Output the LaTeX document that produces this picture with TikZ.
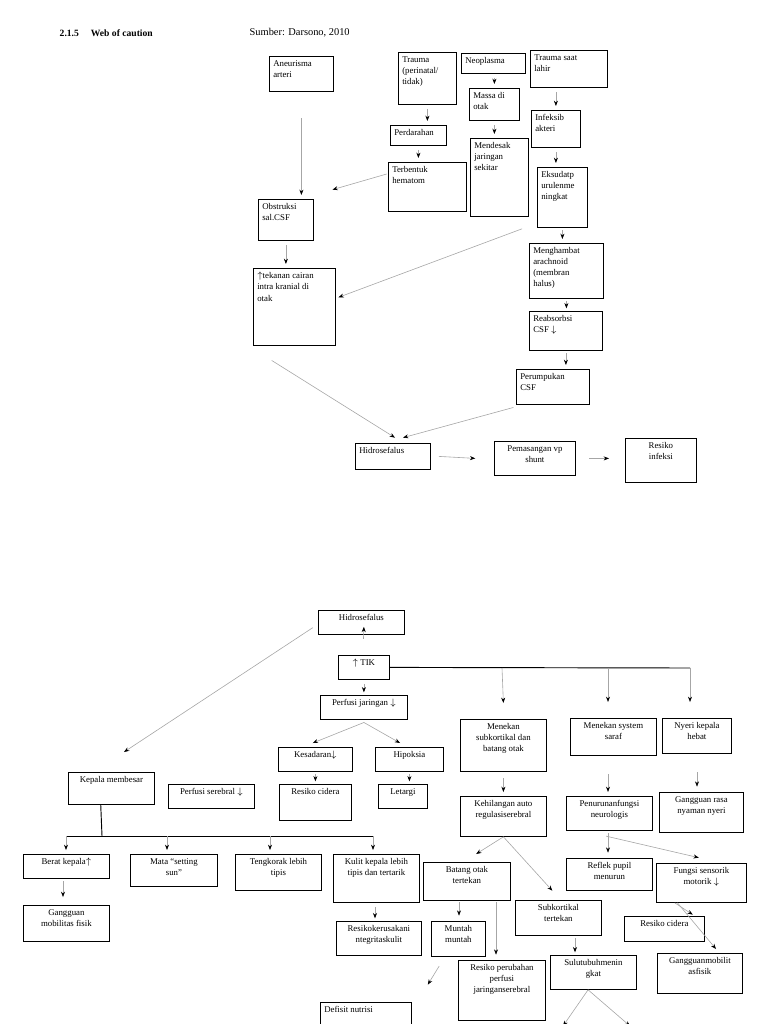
\documentclass[tikz,border=0pt]{standalone}
\usepackage{fontspec}
\setmainfont{Liberation Serif}
\usetikzlibrary{arrows.meta,calc}
\tikzset{
 bx/.style={draw=black,line width=0.6pt,rectangle,inner sep=0pt,anchor=north west},
 tl/.style={anchor=north west,inner sep=0pt,align=left,font=\fontsize{6.6}{8.4}\selectfont},
 tc/.style={anchor=north,inner sep=0pt,align=center,font=\fontsize{6.6}{8.4}\selectfont},
 ar/.style={draw=gray!70,line width=0.45pt,-{Stealth[length=4pt,width=3pt,black]}},
 ln/.style={draw=black,line width=0.7pt}
}
% #1 name, #2 x1, #3 y1, #4 x2, #5 y2, #6 l/c, #7 text
\newcommand\mybox[7]{%
 \node[bx,minimum width={(#4-#2)*0.75pt},minimum height={(#5-#3)*0.75pt}] (#1) at (#2,#3) {};
 \if#6l\node[tl] at ($(#1.north west)+(4,4)$) {#7};\else\node[tc] at ($(#1.north)+(0,4)$) {#7};\fi}
\begin{document}
\begin{tikzpicture}[x=0.75pt,y=-0.75pt]
\useasboundingbox (0,0) rectangle (768,1024);
\node[anchor=west,font=\fontsize{7.2}{9}\selectfont\bfseries] (title) at (55,33) {2.1.5\hspace{9pt}Web of caution};
\node[anchor=west,font=\fontsize{7.8}{9}\selectfont] (src) at (245,33) {Sumber: Darsono, 2010};
% top section
\mybox{aneu}{269}{56}{333}{91}{l}{Aneurisma\\arteri}
\mybox{trauma}{398}{52}{456}{104}{l}{Trauma\\(perinatal/\\tidak)}
\mybox{neo}{461}{53}{525}{73}{l}{Neoplasma}
\mybox{tsl}{530}{50}{607}{87}{l}{Trauma saat\\lahir}
\mybox{massa}{469}{88}{519}{120}{l}{Massa di\\otak}
\mybox{perd}{390}{125}{446}{145}{l}{Perdarahan}
\mybox{infek}{531}{110}{580}{147}{l}{Infeksib\\akteri}
\mybox{mend}{470}{138}{528}{216}{l}{Mendesak\\jaringan\\sekitar}
\mybox{hema}{388}{162}{466}{211}{l}{Terbentuk\\hematom}
\mybox{eksu}{537}{167}{587}{227}{l}{Eksudatp\\urulenme\\ningkat}
\mybox{obs}{258}{199}{313}{240}{l}{Obstruksi\\sal.CSF}
\mybox{meng}{529}{243}{603}{298}{l}{Menghambat\\arachnoid\\(membran\\halus)}
\mybox{tek}{253}{268}{335}{345}{l}{$\uparrow$tekanan cairan\\intra kranial di\\otak}
\mybox{reab}{529}{311}{602}{350}{l}{Reabsorbsi\\CSF $\downarrow$}
\mybox{perum}{516}{369}{589}{404}{l}{Perumpukan\\CSF}
\mybox{hidro}{355}{443}{430}{469}{l}{Hidrosefalus}
\mybox{pvp}{494}{441}{575}{475}{c}{Pemasangan vp\\shunt}
\mybox{rinf}{625}{438}{696}{482}{c}{Resiko\\infeksi}
\draw[ar] ([yshift=-3pt]trauma.south) -- ([yshift=3pt]trauma.south |- perd.north);
\draw[ar] ([yshift=-3pt]perd.south) -- ([yshift=3pt]perd.south |- hema.north);
\draw[ar] ([yshift=-3pt]neo.south -| massa.north) -- ([yshift=3pt]massa.north);
\draw[ar] ([yshift=-3pt]massa.south) -- ([yshift=3pt]massa.south |- mend.north);
\draw[ar] ([yshift=-3pt]tsl.south -| infek.north) -- ([yshift=3pt]infek.north);
\draw[ar] ([yshift=-3pt]infek.south) -- ([yshift=3pt]infek.south |- eksu.north);
\draw[ar] ([yshift=-2pt]eksu.south) -- ([yshift=3pt]eksu.south |- meng.north);
\draw[ar] ([yshift=-2pt]meng.south) -- ([yshift=2pt]meng.south |- reab.north);
\draw[ar] ([yshift=-2pt]reab.south) -- ([yshift=3pt]reab.south |- perum.north);
\draw[ar] ([yshift=-20pt]aneu.south) -- ([yshift=3pt]aneu.south |- obs.north);
\draw[ar] ([xshift=-1pt,yshift=-9pt]hema.north west) -- ([xshift=14pt,yshift=7pt]obs.north east);
\draw[ar] ([yshift=-3pt]obs.south) -- ([yshift=3pt]obs.south |- tek.north);
\draw[ar] ([xshift=17pt,yshift=-9pt]mend.south) -- ([xshift=2pt,yshift=-22pt]tek.north east);
\draw[ar] ([xshift=-17pt,yshift=-11pt]tek.south) -- ([xshift=30pt,yshift=4pt]hidro.north west);
\draw[ar] ([xshift=-2pt,yshift=-2pt]perum.south west) -- ([xshift=36pt,yshift=4pt]hidro.north west);
\draw[ar] ([xshift=6pt]hidro.east) -- ([xshift=-14pt]pvp.west);
\draw[ar] ([xshift=10pt]pvp.east) -- ([xshift=-12pt]rinf.west |- pvp.east);
% bottom section
\mybox{hid2}{318}{610}{404}{634}{c}{Hidrosefalus}
\mybox{tik}{338}{655}{389}{679}{c}{$\uparrow$ TIK}
\mybox{perf}{320}{695}{407}{719}{c}{Perfusi jaringan $\downarrow$}
\mybox{kes}{278}{747}{352}{771}{c}{Kesadaran$\downarrow$}
\mybox{hip}{375}{747}{443}{771}{c}{Hipoksia}
\mybox{rc1}{279}{784}{351}{820}{c}{Resiko cidera}
\mybox{let}{378}{784}{427}{808}{c}{Letargi}
\mybox{kep}{68}{772}{154}{804}{c}{Kepala membesar}
\mybox{pser}{168}{784}{254}{808}{c}{Perfusi serebral $\downarrow$}
\mybox{berat}{23}{854}{109}{878}{c}{Berat kepala$\uparrow$}
\mybox{mata}{130}{854}{217}{886}{c}{Mata ``setting\\sun''}
\mybox{teng}{235}{854}{321}{890}{c}{Tengkorak lebih\\tipis}
\mybox{kulit}{333}{854}{419}{902}{c}{Kulit kepala lebih\\tipis dan tertarik}
\mybox{gmf}{23}{905}{109}{941}{c}{Gangguan\\mobilitas fisik}
\mybox{rkk}{336}{921}{421}{955}{c}{Resikokerusakani\\ntegritaskulit}
\mybox{def}{320}{1002}{411}{1034}{l}{Defisit nutrisi}
\mybox{msub}{460}{719}{546}{771}{c}{Menekan\\subkortikal dan\\batang otak}
\mybox{msys}{570}{718}{656}{755}{c}{Menekan system\\saraf}
\mybox{nyeri}{662}{718}{731}{753}{c}{Nyeri kepala\\hebat}
\mybox{kehil}{460}{796}{546}{836}{c}{Kehilangan auto\\regulasiserebral}
\mybox{penur}{566}{796}{652}{830}{c}{Penurunanfungsi\\neurologis}
\mybox{grn}{659}{792}{743}{832}{c}{Gangguan rasa\\nyaman nyeri}
\mybox{batang}{423}{862}{510}{900}{c}{Batang otak\\tertekan}
\mybox{subk}{515}{900}{601}{935}{c}{Subkortikal\\tertekan}
\mybox{refl}{566}{858}{652}{890}{c}{Reflek pupil\\menurun}
\mybox{fsm}{656}{863}{746}{902}{c}{Fungsi sensorik\\motorik $\downarrow$}
\mybox{rc2}{624}{916}{704}{941}{c}{Resiko cidera}
\mybox{gmf2}{657}{953}{742}{993}{c}{Gangguanmobilit\\asfisik}
\mybox{munt}{431}{921}{485}{956}{c}{Muntah\\muntah}
\mybox{rpp}{458}{960}{545}{1020}{c}{Resiko perubahan\\perfusi\\jaringanserebral}
\mybox{sulu}{550}{955}{636}{989}{c}{Sulutubuhmenin\\gkat}
\coordinate (c1) at (563,1026);
\coordinate (c2) at (630,1026);
\draw[ar] ([xshift=-4pt,yshift=-4pt]hid2.west) -- ([xshift=42pt,yshift=15pt]kep.north west);
\draw[ar] ([xshift=-31pt,yshift=-3pt]hid2.south east) -- ([yshift=6pt]hid2.south -| tik.north);
\draw[ar] ([yshift=-3pt]tik.south) -- ([yshift=2pt]tik.south |- perf.north);
\draw[ar] ([yshift=-2pt]perf.south) -- ([xshift=-2pt,yshift=3pt]kes.north);
\draw[ar] ([yshift=-2pt]perf.south) -- ([xshift=-7pt,yshift=3pt]hip.north);
\draw[ar] ([yshift=-2pt]kes.south) -- ([yshift=2pt]kes.south |- rc1.north);
\draw[ar] ([yshift=-2pt]hip.south) -- ([yshift=2pt]hip.south |- let.north);
\draw[ln] (tik.east) -- (690,668);
\draw[ar] (502,668) -- ([yshift=12pt]msub.north);
\draw[ar] (608,668) -- ([yshift=12pt]msys.north -| 608,0);
\draw[ar] (690,668) -- ([yshift=12pt]nyeri.north -| 690,0);
\draw[ln] ([xshift=-8pt]kep.south) -- (102,836);
\draw[ln] (66,836) -- (373,836);
\draw[ar] (66,836) -- ([yshift=3pt]berat.north -| 66,0);
\draw[ar] (167,836) -- ([yshift=3pt]mata.north -| 167,0);
\draw[ar] (270,836) -- ([yshift=3pt]teng.north -| 270,0);
\draw[ar] (373,836) -- ([yshift=3pt]kulit.north -| 373,0);
\draw[ar] ([yshift=-2pt]berat.south -| 63,0) -- ([yshift=6pt]gmf.north -| 63,0);
\draw[ar] ([yshift=-3pt]kulit.south -| 375,0) -- ([yshift=2pt]rkk.north -| 375,0);
\draw[ar] ([yshift=-5pt]msub.south) -- ([yshift=3pt]msub.south |- kehil.north);
\draw[ar] ([yshift=-14pt]msys.south -| 608,0) -- ([yshift=3pt]penur.north -| 608,0);
\draw[ar] ([yshift=-14pt]nyeri.south -| 697,0) -- ([yshift=4pt]grn.north -| 697,0);
\draw[ar] (kehil.south) -- ([xshift=-26pt,yshift=6pt]batang.north east);
\draw[ar] (kehil.south) -- ([xshift=28pt,yshift=7pt]subk.north west);
\draw[ar] ([yshift=-1pt]batang.south -| 459,0) -- ([yshift=4pt]munt.north -| 459,0);
\draw[ar] ([yshift=-1pt]batang.south -| 496,0) -- ([yshift=4pt]rpp.north -| 496,0);
\draw[ar] ([yshift=-2pt]penur.south -| 608,0) -- ([yshift=4pt]refl.north -| 608,0);
\draw[ar] ([xshift=-35pt,yshift=-4pt]penur.south east) -- ([xshift=-36pt,yshift=4pt]fsm.north east);
\draw[ar] ([yshift=-2pt]subk.south -| 575,0) -- ([yshift=2pt]sulu.north -| 575,0);
\draw[ar] ([xshift=-20pt]fsm.south) -- ([xshift=-9pt,yshift=1pt]rc2.north east);
\draw[ar] ([xshift=-18pt]fsm.south) -- ([yshift=3pt]gmf2.north -| 716,0);
\draw[ar] ([xshift=-35pt,yshift=-7pt]munt.south east) -- ([xshift=12pt,yshift=13pt]def.north east);
\draw[ar] ([xshift=-4pt]sulu.south) -- (c1);
\draw[ar] ([xshift=-4pt]sulu.south) -- (c2);
\end{tikzpicture}
\end{document}
